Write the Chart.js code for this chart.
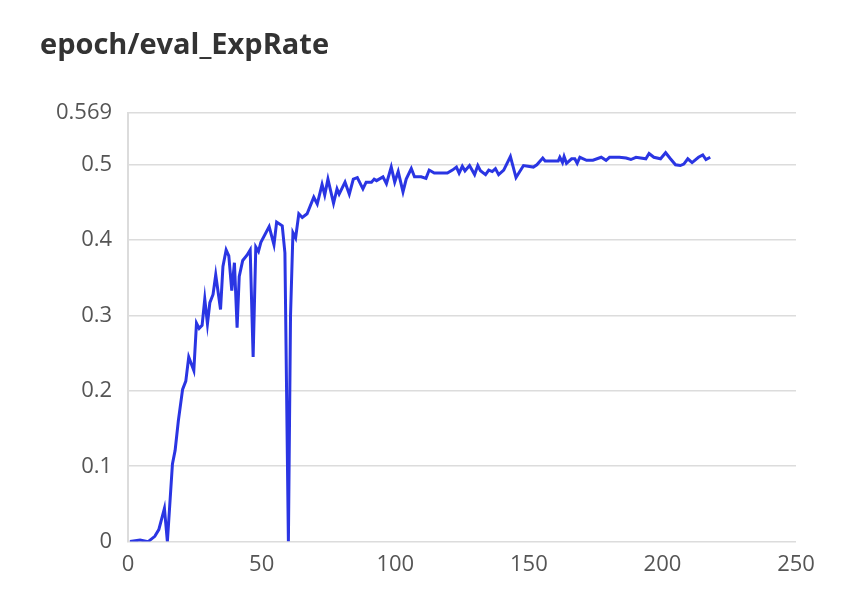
<!DOCTYPE html>
<html><head><meta charset="utf-8">
<script src="https://cdn.jsdelivr.net/npm/chart.js@4"></script>
<style>html,body{margin:0;padding:0;background:#fff}#w{width:856px;height:602px}</style>
</head><body><div id="w"><canvas id="c"></canvas></div>
<script>
const epochs=[0.7,4.5,7.5,10,11.5,13.6,14.7,16.6,17.6,18.8,20.4,21.6,22.7,24.6,25.6,26.6,27.7,28.7,29.7,30.6,31.8,32.8,34.6,35.5,36.7,37.7,38.8,39.8,40.8,41.6,42.9,44.5,45.7,46.8,47.8,48.8,49.7,52.8,54.6,55.6,57.7,58.7,60,60.8,61.7,62.7,63.9,65.2,67,69.5,70.8,72.6,73.6,74.8,76.9,78.2,79,81.2,82.8,84.3,85.8,87.9,89.1,91.1,92.1,93,95.4,96.7,98.5,99.8,101.1,102.9,104.1,106,107.2,109.7,111.5,112.7,114.6,119.5,121.4,122.9,123.9,125.1,126.1,127.8,129.7,130.9,131.9,133.8,135,136.3,137.5,138.7,140.6,143.1,145.2,148,151.7,153,155.2,156.1,161,161.6,162.6,163.2,164.1,166,167.2,168.1,169.1,171.6,174,177.1,178.9,180.2,183.9,186.4,188.2,190.1,193.8,195,196.8,199.3,201.2,203,204.9,206.7,208,209.5,211.1,213.5,215.1,216.3,217.9];
const values=[0,0.002,0,0.007,0.016,0.044,0,0.103,0.121,0.16,0.202,0.213,0.245,0.227,0.29,0.283,0.287,0.322,0.289,0.317,0.328,0.354,0.308,0.365,0.387,0.379,0.333,0.37,0.284,0.352,0.373,0.38,0.387,0.245,0.391,0.385,0.397,0.418,0.394,0.424,0.419,0.383,0,0.3,0.41,0.403,0.435,0.43,0.435,0.457,0.448,0.474,0.46,0.481,0.449,0.468,0.461,0.477,0.461,0.481,0.483,0.468,0.477,0.477,0.481,0.479,0.484,0.475,0.497,0.477,0.491,0.464,0.481,0.495,0.484,0.484,0.482,0.493,0.489,0.489,0.493,0.497,0.489,0.498,0.492,0.499,0.487,0.499,0.492,0.487,0.493,0.491,0.495,0.487,0.493,0.511,0.483,0.499,0.497,0.5,0.509,0.505,0.505,0.51,0.503,0.511,0.502,0.508,0.508,0.502,0.51,0.506,0.506,0.51,0.506,0.51,0.51,0.509,0.507,0.51,0.508,0.515,0.51,0.508,0.516,0.508,0.5,0.499,0.501,0.508,0.503,0.51,0.513,0.507,0.51];
const yTicks=[0,0.1,0.2,0.3,0.4,0.5,0.569];
const xTicks=[0,50,100,150,200,250];
const F='"Open Sans","Noto Sans",sans-serif';
new Chart(document.getElementById('c'),{
 type:'scatter',
 data:{datasets:[{data:epochs.map((e,i)=>({x:e,y:values[i]})),showLine:true,borderColor:'#2a35e3',borderWidth:3,pointRadius:0,tension:0}]},
 options:{responsive:true,maintainAspectRatio:false,animation:false,
  layout:{padding:{left:40,right:60,top:18,bottom:22}},
  plugins:{legend:{display:false},tooltip:{enabled:false},
   title:{display:true,text:'epoch/eval_ExpRate',align:'start',color:'#333',font:{family:F,size:29,weight:'bold'},padding:{top:10,bottom:50}}},
  scales:{
   x:{type:'linear',min:0,max:250,afterBuildTicks:a=>{a.ticks=xTicks.map(v=>({value:v}))},
      grid:{display:false},border:{display:false},
      ticks:{color:'#555',font:{family:F,size:22},padding:2}},
   y:{min:0,max:0.569,afterBuildTicks:a=>{a.ticks=yTicks.map(v=>({value:v}))},
      grid:{color:'#dcdcdc',lineWidth:1.5,drawTicks:false},border:{color:'#dcdcdc',width:2},
      ticks:{color:'#555',font:{family:F,size:22},padding:16,callback:v=>String(v)}}
  }}
});
</script></body></html>
